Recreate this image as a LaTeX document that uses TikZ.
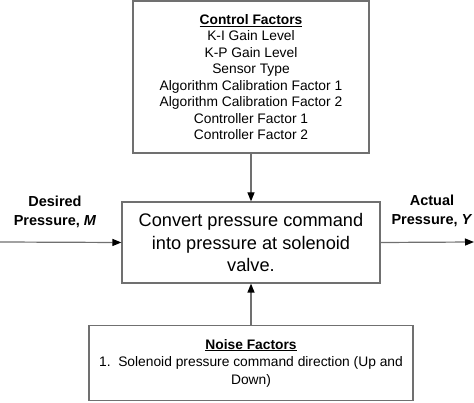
\documentclass[tikz,border=0pt]{standalone}
\usepackage{fontspec}
\setmainfont{Liberation Sans}
\usetikzlibrary{arrows.meta}
\definecolor{linegray}{HTML}{707070}
\tikzset{
  box/.style={draw=linegray, line width=1.2pt, rectangle, inner sep=0pt, align=center},
  conn/.style={draw=linegray, line width=1.2pt, -{Triangle[length=9pt,width=7pt,fill=black,color=black]}},
  lbl/.style={font=\fontsize{14.5}{19}\selectfont\bfseries, align=center, inner sep=0pt}
}
\begin{document}
\begin{tikzpicture}[x=1pt,y=-1pt]
\useasboundingbox (0,0) rectangle (474,403);
\fill[white] (0,0) rectangle (474,403);
\node[box, minimum width=236pt, minimum height=152pt,
  font=\fontsize{13.8}{16.5}\selectfont] (ctrl) at (251,77)
  {\underline{\textbf{Control Factors}}\\K-I Gain Level\\K-P Gain Level\\Sensor Type\\Algorithm Calibration Factor 1\\Algorithm Calibration Factor 2\\Controller Factor 1\\Controller Factor 2};
\node[box, minimum width=258pt, minimum height=81pt,
  font=\fontsize{18.2}{22.5}\selectfont] (proc) at (251,242.5)
  {Convert pressure command\\into pressure at solenoid\\valve.};
\node[box, minimum width=324pt, minimum height=75pt,
  font=\fontsize{13.8}{17.5}\selectfont] (noise) at (251,363)
  {\underline{\textbf{Noise Factors}}\\1.\ \ Solenoid pressure command direction (Up and\\Down)};
\coordinate (in) at (0,242);
\coordinate (out) at (474,242);
\node[lbl] (des) at (55,212) {Desired\\Pressure, \textit{M}};
\node[lbl] (act) at (432,211) {Actual\\Pressure, \textit{Y}};
\draw[conn] (ctrl.south) -- (proc.north);
\draw[conn] (noise.north) -- (proc.south);
\draw[conn] (in) -- (proc.west);
\draw[conn] (proc.east) -- (out);
\end{tikzpicture}
\end{document}
